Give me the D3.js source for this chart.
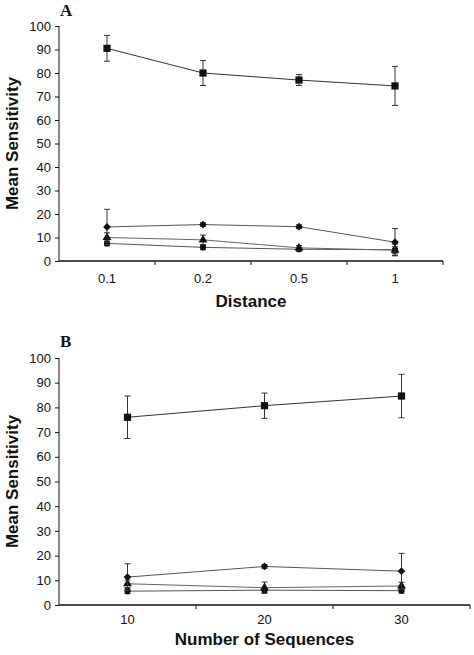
<!DOCTYPE html>
<html>
<head>
<meta charset="utf-8">
<script src="https://cdn.jsdelivr.net/npm/d3@7"></script>
<style>
  body { margin: 0; background: #fff; }
</style>
</head>
<body>
<div id="container"></div>
<script>
const WIDTH = 474;
const HEIGHT = 655;
const SANS = '"Liberation Sans", Arial, sans-serif';
const SERIF = '"Liberation Serif", "Times New Roman", serif';

// panel A: sensitivity vs distance
const distanceLabels = ['0.1', '0.2', '0.5', '1'];
const aSquare = [90.5, 80, 77, 74.5];
const aSquareErr = [5.5, 5.3, 2.3, 8.3];
const aDiamond = [14.5, 15.5, 14.6, 8];
const aDiamondErr = [7.5, 0.8, 0.8, 5.8];
const aTriangle = [10, 9, 5.6, 4.6];
const aTriangleErr = [2, 2, 1, 1.5];
const aCircle = [7.5, 5.8, 5, 4.8];
const aCircleErr = [1, 1, 0.8, 2.4];

// panel B: sensitivity vs number of sequences
const seqLabels = ['10', '20', '30'];
const bSquare = [76, 80.7, 84.6];
const bSquareErr = [8.6, 5.1, 8.8];
const bDiamond = [11.3, 15.6, 13.7];
const bDiamondErr = [5.4, 0.8, 7.2];
const bTriangle = [8.6, 7, 7.7];
const bTriangleErr = [1.5, 2.3, 1.5];
const bCircle = [5.6, 6, 5.8];
const bCircleErr = [1, 1, 1];

const yTicks = [0, 10, 20, 30, 40, 50, 60, 70, 80, 90, 100];

const svg = d3.select('#container')
    .append('svg')
    .attr('width', WIDTH)
    .attr('height', HEIGHT);

function drawPanel(opt) {
    const x = d3.scaleBand()
        .domain(opt.cats)
        .range([opt.left, opt.right])
        .padding(0);
    const y = d3.scaleLinear()
        .domain([0, 100])
        .range([opt.bottom, opt.top]);

    const g = svg.append('g');

    // y axis
    const yAxis = g.append('g')
        .attr('transform', `translate(${opt.left},0)`)
        .call(d3.axisLeft(y).tickValues(yTicks).tickSize(4).tickPadding(4));
    yAxis.selectAll('text').attr('font-size', 13).attr('font-family', SANS).attr('fill', '#111');
    yAxis.select('.domain').attr('d', `M0,${opt.bottom}V${opt.top}`).attr('stroke', '#111');
    yAxis.selectAll('.tick line').attr('stroke', '#111');

    // x axis: labels centred, ticks between categories
    const xAxis = g.append('g')
        .attr('transform', `translate(0,${opt.bottom})`)
        .call(d3.axisBottom(x).tickSize(0).tickPadding(opt.labelPad));
    xAxis.selectAll('text').attr('font-size', 13).attr('font-family', SANS).attr('fill', '#111');
    xAxis.select('.domain').attr('d', `M${opt.left},0H${opt.right}`).attr('stroke', '#111').attr('stroke-width', 1.3);
    const bounds = opt.cats.map(c => x(c)).concat([x.range()[1]]).slice(1);
    xAxis.selectAll('.btick')
        .data(bounds)
        .enter()
        .append('line')
          .attr('x1', d => d).attr('x2', d => d)
          .attr('y1', 0).attr('y2', 4)
          .attr('stroke', '#111');

    const cx = c => x(c) + x.bandwidth() / 2;

    const series = [
        { vals: opt.circle, err: opt.circleErr, sym: d3.symbolCircle, size: 30, rot: 0, line: '#555' },
        { vals: opt.triangle, err: opt.triangleErr, sym: d3.symbolTriangle, size: 34, rot: 0, line: '#666' },
        { vals: opt.diamond, err: opt.diamondErr, sym: d3.symbolSquare, size: 30, rot: 45, line: '#555' },
        { vals: opt.square, err: opt.squareErr, sym: d3.symbolSquare, size: 52, rot: 0, line: '#333' }
    ];

    series.forEach(s => {
        const pts = opt.cats.map((c, i) => ({ c: c, v: s.vals[i], e: s.err[i] }));

        g.append('path')
            .datum(pts)
            .attr('fill', 'none')
            .attr('stroke', s.line)
            .attr('stroke-width', 1)
            .attr('d', d3.line().x(d => cx(d.c)).y(d => y(d.v)));

        const eb = g.append('g').attr('stroke', '#333').attr('stroke-width', 1);
        eb.selectAll('.bar')
            .data(pts)
            .enter()
            .append('line')
              .attr('x1', d => cx(d.c)).attr('x2', d => cx(d.c))
              .attr('y1', d => y(d.v - d.e)).attr('y2', d => y(d.v + d.e));
        eb.selectAll('.capTop')
            .data(pts)
            .enter()
            .append('line')
              .attr('x1', d => cx(d.c) - 3).attr('x2', d => cx(d.c) + 3)
              .attr('y1', d => y(d.v + d.e)).attr('y2', d => y(d.v + d.e));
        eb.selectAll('.capBot')
            .data(pts)
            .enter()
            .append('line')
              .attr('x1', d => cx(d.c) - 3).attr('x2', d => cx(d.c) + 3)
              .attr('y1', d => y(d.v - d.e)).attr('y2', d => y(d.v - d.e));

        g.selectAll(null)
            .data(pts)
            .enter()
            .append('path')
              .attr('d', d3.symbol().type(s.sym).size(s.size))
              .attr('transform', d => `translate(${cx(d.c)},${y(d.v)}) rotate(${s.rot})`)
              .attr('fill', '#111');
    });

    // panel letter (bold serif)
    g.append('text')
        .attr('x', opt.left + 1)
        .attr('y', opt.letterY)
        .attr('font-family', SERIF)
        .attr('font-weight', 'bold')
        .attr('font-size', 17)
        .attr('fill', '#111')
        .text(opt.letter);

    // axis titles
    g.append('text')
        .attr('x', (opt.left + opt.right) / 2)
        .attr('y', opt.xTitleY)
        .attr('text-anchor', 'middle')
        .attr('font-family', SANS)
        .attr('font-weight', 'bold')
        .attr('font-size', 17)
        .attr('fill', '#111')
        .text(opt.xTitle);

    g.append('text')
        .attr('transform', `translate(18,${(opt.top + opt.bottom) / 2}) rotate(-90)`)
        .attr('text-anchor', 'middle')
        .attr('font-family', SANS)
        .attr('font-weight', 'bold')
        .attr('font-size', 17)
        .attr('fill', '#111')
        .text('Mean Sensitivity');
}

drawPanel({
    cats: distanceLabels, left: 59, right: 443, top: 26, bottom: 261,
    square: aSquare, squareErr: aSquareErr,
    diamond: aDiamond, diamondErr: aDiamondErr,
    triangle: aTriangle, triangleErr: aTriangleErr,
    circle: aCircle, circleErr: aCircleErr,
    labelPad: 13, letter: 'A', letterY: 16, xTitle: 'Distance', xTitleY: 307
});

drawPanel({
    cats: seqLabels, left: 59, right: 470, top: 358, bottom: 605,
    square: bSquare, squareErr: bSquareErr,
    diamond: bDiamond, diamondErr: bDiamondErr,
    triangle: bTriangle, triangleErr: bTriangleErr,
    circle: bCircle, circleErr: bCircleErr,
    labelPad: 10, letter: 'B', letterY: 347, xTitle: 'Number of Sequences', xTitleY: 645
});
</script>
</body>
</html>
